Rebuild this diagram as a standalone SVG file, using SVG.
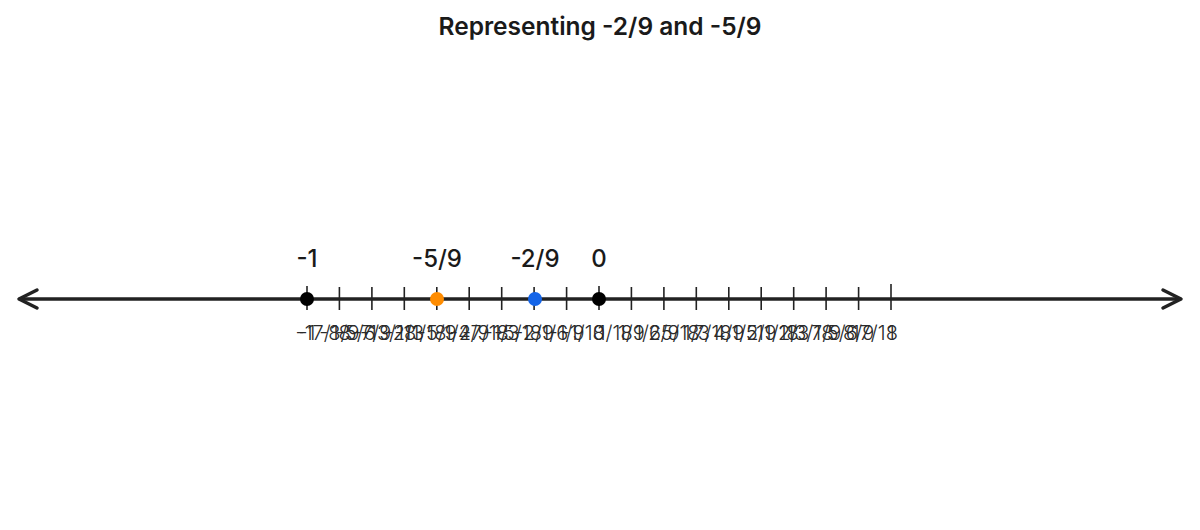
<svg xmlns="http://www.w3.org/2000/svg" width="1200" height="530" viewBox="0 0 1200 530">
<style>
.title{font-family:Inter,"Noto Sans",sans-serif;font-size:24.5px;font-weight:600;fill:#1a1a1a;text-anchor:middle}
.pt{font-family:Inter,"Noto Sans",sans-serif;font-size:24px;font-weight:500;fill:#1a1a1a;text-anchor:middle}
.tl{font-family:Inter,"Noto Sans",sans-serif;font-size:20px;font-weight:300;fill:#2a2a2a;text-anchor:middle}
.axis{stroke:#222;stroke-width:3.5;fill:none;stroke-linecap:round;stroke-linejoin:round}
.tick{stroke:#222;stroke-width:1.6}
</style>
<rect width="1200" height="530" fill="#fff"/>
<text class="title" x="600" y="35">Representing -2/9 and -5/9</text>
<g id="axis">
<line class="axis" x1="20" y1="299" x2="1180" y2="299"/>
<polyline class="axis" points="37,290 19,299 37,308"/>
<polyline class="axis" points="1163,290 1181,299 1163,308"/>
</g>
<g id="ticks">
<line class="tick" x1="307" y1="286" x2="307" y2="310"/>
<line class="tick" x1="339.4" y1="287" x2="339.4" y2="310"/>
<line class="tick" x1="371.9" y1="287" x2="371.9" y2="310"/>
<line class="tick" x1="404.3" y1="287" x2="404.3" y2="310"/>
<line class="tick" x1="436.8" y1="287" x2="436.8" y2="310"/>
<line class="tick" x1="469.2" y1="287" x2="469.2" y2="310"/>
<line class="tick" x1="501.7" y1="287" x2="501.7" y2="310"/>
<line class="tick" x1="534.1" y1="287" x2="534.1" y2="310"/>
<line class="tick" x1="566.6" y1="287" x2="566.6" y2="310"/>
<line class="tick" x1="599" y1="286" x2="599" y2="310"/>
<line class="tick" x1="631.4" y1="287" x2="631.4" y2="310"/>
<line class="tick" x1="663.9" y1="287" x2="663.9" y2="310"/>
<line class="tick" x1="696.3" y1="287" x2="696.3" y2="310"/>
<line class="tick" x1="728.8" y1="287" x2="728.8" y2="310"/>
<line class="tick" x1="761.2" y1="287" x2="761.2" y2="310"/>
<line class="tick" x1="793.7" y1="287" x2="793.7" y2="310"/>
<line class="tick" x1="826.1" y1="287" x2="826.1" y2="310"/>
<line class="tick" x1="858.6" y1="287" x2="858.6" y2="310"/>
<line class="tick" x1="891" y1="284" x2="891" y2="310"/>
</g>
<g id="tick-labels">
<text class="tl" x="307" y="340">-1</text>
<text class="tl" x="323.2" y="340">-17/18</text>
<text class="tl" x="339.4" y="340">-8/9</text>
<text class="tl" x="355.7" y="340">-5/6</text>
<text class="tl" x="371.9" y="340">-7/9</text>
<text class="tl" x="388.1" y="340">-13/18</text>
<text class="tl" x="404.3" y="340">-2/3</text>
<text class="tl" x="420.5" y="340">-11/18</text>
<text class="tl" x="436.8" y="340">-5/9</text>
<text class="tl" x="453" y="340">-1/2</text>
<text class="tl" x="469.2" y="340">-4/9</text>
<text class="tl" x="485.4" y="340">-7/18</text>
<text class="tl" x="501.7" y="340">-1/3</text>
<text class="tl" x="517.9" y="340">-5/18</text>
<text class="tl" x="534.1" y="340">-2/9</text>
<text class="tl" x="550.3" y="340">-1/6</text>
<text class="tl" x="566.6" y="340">-1/9</text>
<text class="tl" x="582.8" y="340">-1/18</text>
<text class="tl" x="599" y="340">0</text>
<text class="tl" x="615.2" y="340">1/18</text>
<text class="tl" x="631.4" y="340">1/9</text>
<text class="tl" x="647.7" y="340">1/6</text>
<text class="tl" x="663.9" y="340">2/9</text>
<text class="tl" x="680.1" y="340">5/18</text>
<text class="tl" x="696.3" y="340">1/3</text>
<text class="tl" x="712.5" y="340">7/18</text>
<text class="tl" x="728.8" y="340">4/9</text>
<text class="tl" x="745" y="340">1/2</text>
<text class="tl" x="761.2" y="340">5/9</text>
<text class="tl" x="777.4" y="340">11/18</text>
<text class="tl" x="793.7" y="340">2/3</text>
<text class="tl" x="809.9" y="340">13/18</text>
<text class="tl" x="826.1" y="340">7/9</text>
<text class="tl" x="842.3" y="340">5/6</text>
<text class="tl" x="858.6" y="340">8/9</text>
<text class="tl" x="874.8" y="340">17/18</text>
<text class="tl" x="891" y="340">1</text>
</g>
<g id="point-minus1">
<circle cx="307" cy="299" r="7" fill="#000"/>
<text class="pt" x="307" y="267">-1</text>
</g>
<g id="point-minus5-9">
<circle cx="437" cy="299" r="7" fill="#FF8C00"/>
<text class="pt" x="437" y="267">-5/9</text>
</g>
<g id="point-minus2-9">
<circle cx="535" cy="299" r="7" fill="#1565E8"/>
<text class="pt" x="535" y="267">-2/9</text>
</g>
<g id="point-0">
<circle cx="599" cy="299" r="7" fill="#000"/>
<text class="pt" x="599" y="267">0</text>
</g>
</svg>
